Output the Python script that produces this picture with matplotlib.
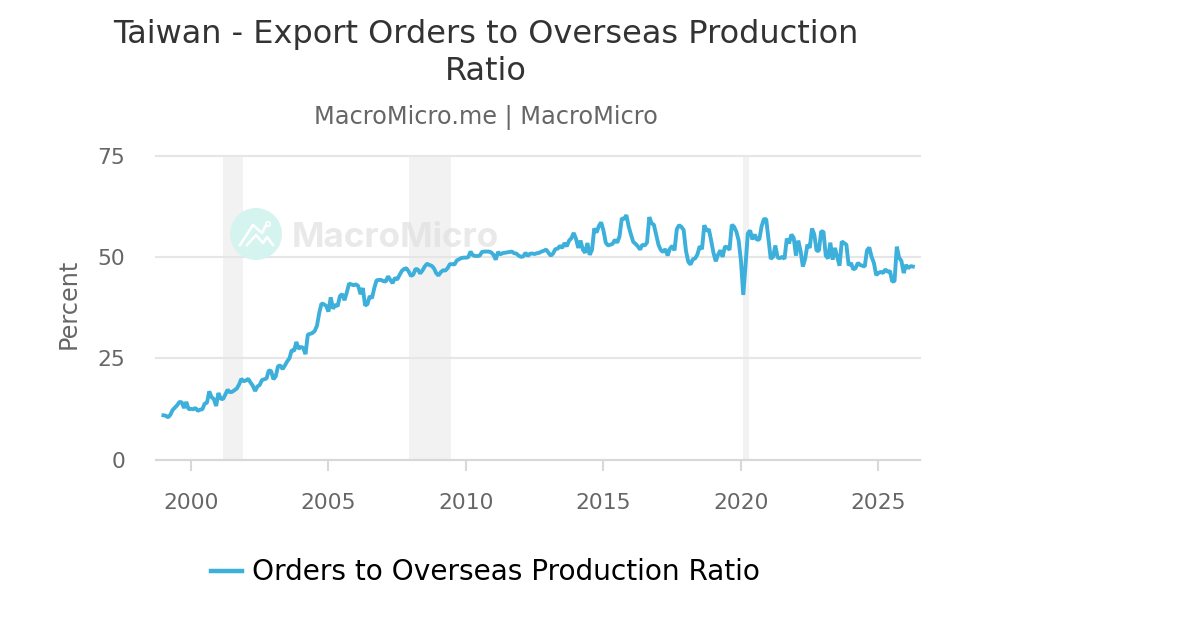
import numpy as np
import matplotlib.pyplot as plt
from matplotlib.patches import Circle
from matplotlib.lines import Line2D

# monthly ratio in percent, one row per year, from Jan 1999
ratio = [
    10.9, 10.8, 10.4, 11.0, 12.2, 12.8, 13.4, 14.2, 14.1, 12.7, 14.2, 12.4,
    12.5, 12.4, 12.7, 12.0, 12.3, 12.4, 13.8, 14.0, 16.8, 15.4, 14.9, 13.2,
    16.4, 15.0, 14.9, 16.0, 17.2, 16.6, 16.7, 17.1, 17.5, 18.5, 19.9, 19.3,
    19.5, 19.9, 19.0, 18.2, 16.9, 18.0, 18.4, 19.6, 19.8, 20.0, 22.0, 21.8,
    19.8, 20.5, 23.0, 23.2, 22.3, 23.2, 24.2, 25.0, 27.0, 26.8, 29.0, 27.3,
    27.8, 27.5, 26.0, 30.8, 31.0, 31.2, 31.7, 33.0, 36.2, 38.5, 38.3, 37.9,
    36.5, 40.0, 37.2, 38.2, 37.8, 40.3, 40.8, 39.3, 41.2, 43.4, 43.2, 43.0,
    43.2, 42.8, 40.8, 42.3, 38.0, 38.3, 40.3, 39.8, 42.3, 44.2, 44.3, 44.3,
    44.0, 43.9, 45.2, 44.3, 43.5, 44.8, 44.4, 45.5, 46.5, 47.0, 47.2, 46.4,
    45.3, 45.6, 47.0, 46.9, 45.9, 46.6, 47.6, 48.3, 48.0, 47.8, 47.2, 46.0,
    45.4, 46.2, 46.7, 46.6, 47.2, 48.2, 48.2, 48.1, 49.1, 49.4, 49.7, 49.8,
    49.8, 49.9, 51.3, 50.4, 50.2, 50.2, 50.3, 51.2, 51.3, 51.3, 51.3, 51.1,
    50.5, 49.3, 51.2, 50.6, 50.9, 51.0, 51.1, 51.2, 51.3, 50.9, 50.8, 50.3,
    50.0, 50.1, 51.0, 50.2, 50.8, 50.8, 50.7, 50.9, 51.0, 51.3, 51.5, 51.8,
    51.0, 50.3, 50.8, 51.9, 52.0, 52.7, 52.2, 53.4, 52.6, 54.0, 54.6, 55.9,
    54.5, 52.2, 54.0, 51.8, 51.0, 53.4, 50.5, 51.7, 57.0, 56.0, 57.6, 58.5,
    56.5, 53.5, 52.8, 53.0, 53.2, 54.2, 53.5, 55.0, 59.5, 59.3, 60.3, 57.5,
    55.5, 53.7, 53.2, 52.6, 51.8, 53.0, 52.8, 53.5, 59.8, 58.3, 57.9, 55.5,
    53.0, 51.7, 51.2, 51.9, 50.3, 52.0, 52.7, 51.6, 56.8, 57.8, 57.4, 56.6,
    51.5, 48.8, 48.1, 49.4, 49.6, 50.6, 52.6, 51.9, 57.8, 56.4, 56.8, 54.0,
    51.0, 48.9, 50.5, 51.6, 50.0, 52.5, 52.4, 51.7, 57.9, 57.4, 56.2, 54.0,
    49.0, 40.6, 48.0, 55.8, 56.5, 54.3, 55.5, 54.2, 54.3, 57.5, 59.3, 59.3,
    54.5, 49.5, 50.0, 52.8, 49.8, 49.7, 50.0, 49.5, 54.5, 53.3, 55.5, 54.7,
    50.3, 54.0, 51.5, 47.6, 49.5, 53.0, 52.2, 57.0, 55.5, 51.5, 51.5, 56.3,
    56.2, 50.3, 49.6, 53.5, 49.3, 52.2, 50.0, 47.8, 53.8, 53.4, 53.0, 47.9,
    48.5, 46.9, 47.2, 48.5, 48.0, 47.8, 47.6, 51.6, 52.3, 50.0, 48.5, 45.5,
    46.0, 46.3, 46.0, 46.9, 46.3, 46.5, 43.9, 44.0, 52.5, 49.8, 49.0, 46.0,
    48.0, 47.2, 47.7, 47.6,
]
years = 1999 + np.arange(len(ratio)) / 12

recessions = [(2001.17, 2001.89), (2007.93, 2009.45), (2020.07, 2020.29)]
x_ticks = [2000, 2005, 2010, 2015, 2020, 2025]
y_ticks = [0, 25, 50, 75]

W, H = 1200, 630
plt.rcParams['font.family'] = 'DejaVu Sans'

def fx(px):
    return px / W

def fy(py):
    return 1 - py / H

fig = plt.figure(figsize=(12, 6.3), dpi=100)
ax = fig.add_axes([fx(156), fy(459.5), (920 - 156) / W, (459.5 - 155.5) / H])

for start, end in recessions:
    ax.axvspan(start, end, color='#f2f2f2', lw=0, zorder=0)

ax.plot(years, ratio, color='#3cafdb', lw=2.8, solid_joinstyle='bevel', zorder=3,
        label='Orders to Overseas Production Ratio')

ax.set_xlim(1998.73, 2026.51)
ax.set_ylim(0, 75)
ax.set_xticks(x_ticks)
ax.set_yticks(y_ticks)
ax.grid(axis='y', color='#e6e6e6', lw=1.5, zorder=1, clip_on=False)
ax.set_axisbelow(True)
for side in ['top', 'left', 'right']:
    ax.spines[side].set_visible(False)
ax.spines['bottom'].set_color('#d8d8d8')
ax.spines['bottom'].set_linewidth(1.5)
ax.tick_params(axis='x', length=8, width=1.5, color='#d8d8d8', labelcolor='#666666',
               labelsize=15.7, pad=16)
ax.tick_params(axis='y', length=0, labelcolor='#666666', labelsize=15.7, pad=22)

fig.text(fx(485.5), fy(35), 'Taiwan - Export Orders to Overseas Production',
         ha='center', va='center', fontsize=23, color='#333333')
fig.text(fx(485.5), fy(72), 'Ratio', ha='center', va='center', fontsize=23, color='#333333')
fig.text(fx(486), fy(118), 'MacroMicro.me | MacroMicro', ha='center', va='center',
         fontsize=17.25, color='#666666')
fig.text(fx(68.5), fy(303.5), 'Percent', rotation=90, ha='center', va='center',
         fontsize=17.3, color='#666666')

# watermark: round logo plus wordmark
fig.add_artist(Circle((256, H - 234), 26, transform=None, color='#d5f4f0', lw=0, zorder=2))
for xs, ys in [([240, 253, 262, 266], [245, 225, 233, 225]),
               ([247, 256, 263, 267, 273], [245, 235, 243, 237, 245])]:
    fig.add_artist(Line2D([fx(v) for v in xs], [fy(v) for v in ys], color='white', lw=1.8, zorder=2))
fig.add_artist(Circle((268, H - 224), 2.2, transform=None, fc='none', ec='white', lw=1.2, zorder=2))
fig.text(fx(292), fy(247), 'MacroMicro', ha='left', va='baseline', fontsize=25.2,
         fontweight='bold', family='Inter', color='#e0e0e0', alpha=0.7, zorder=2)

leg = ax.legend(loc='center left', bbox_to_anchor=(fx(211), fy(572.5)), bbox_transform=fig.transFigure,
                frameon=False, fontsize=20.2, handlelength=1.11, handletextpad=0.36,
                borderaxespad=0, borderpad=0, labelcolor='black')
leg.get_lines()[0].set_linewidth(3.2)

fig.savefig('out.png', dpi=100)
